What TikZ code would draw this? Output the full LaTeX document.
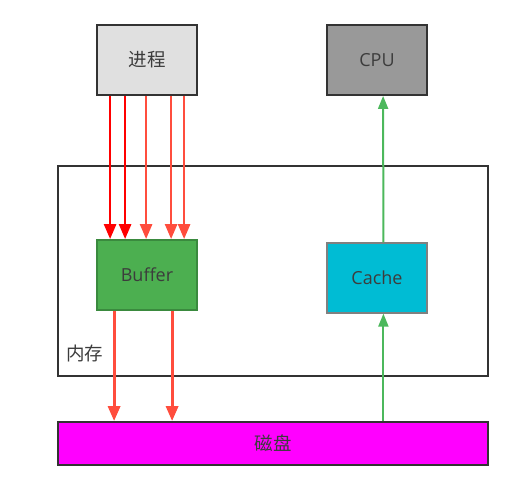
\documentclass[tikz,border=0pt]{standalone}
\usepackage{fontspec}
\setmainfont{Open Sans}
\newfontfamily\cjk{Noto Sans CJK SC}
\usepackage{xcolor}
\usetikzlibrary{arrows.meta,positioning}

\definecolor{procgray}{HTML}{E0E0E0}
\definecolor{cpugray}{HTML}{999999}
\definecolor{bufgreen}{HTML}{4CAF50}
\definecolor{bufedge}{HTML}{3A8A3E}
\definecolor{cachecyan}{HTML}{00BCD4}
\definecolor{diskpink}{HTML}{FF00FF}
\definecolor{edgedark}{HTML}{333333}
\definecolor{textdark}{HTML}{3C3C3C}
\definecolor{lightred}{HTML}{FF4D3D}
\definecolor{upgreen}{HTML}{4CB85C}

\tikzset{
  unit/.style={draw=edgedark, line width=1.8pt, minimum width=100pt,
    minimum height=70pt, inner sep=0pt, text=textdark, font=\fontsize{18}{21}\selectfont},
  cjkfont/.style={font=\cjk\fontsize{18.5}{21}\selectfont},
  wide/.style={draw=edgedark, line width=1.8pt, minimum width=430pt, inner sep=0pt},
  redarrow/.style={line width=2.6pt, -{Triangle[width=12pt,length=15pt]}},
  greenarrow/.style={color=upgreen, line width=2pt, -{Triangle[width=10pt,length=13pt]}}
}

\begin{document}
\begin{tikzpicture}[x=1pt, y=-1pt]
  \useasboundingbox (0,0) rectangle (513,490);
  % memory frame and disk
  \node[wide, minimum height=210pt] (mem) at (273,271) {};
  \node[wide, minimum height=43pt, fill=diskpink, text=textdark, cjkfont] (disk) at (273,443.5) {磁盘};
  \node[text=textdark, cjkfont, anchor=west, inner sep=0pt] (memlabel) at (66,353) {内存};
  % boxes
  \node[unit, fill=procgray, cjkfont] (proc) at (147,60) {进程};
  \node[unit, fill=cpugray] (cpu) at (377,60) {CPU};
  \node[unit, fill=bufgreen, draw=bufedge] (buf) at (147,275) {Buffer};
  \node[unit, fill=cachecyan, draw=gray, line width=1.2pt] (cache) at (377,278) {Cache};
  % writes into the buffer
  \foreach \dx in {14,29}
    \draw[redarrow, red] ([xshift=\dx]proc.south west) -- ([xshift=\dx]buf.north west);
  \foreach \dx in {50,75,88}
    \draw[redarrow, lightred] ([xshift=\dx]proc.south west) -- ([xshift=\dx]buf.north west);
  % buffer flushed to disk
  \foreach \dx in {18,76}
    \draw[redarrow, lightred, line width=3.2pt] ([xshift=\dx]buf.south west) -- ([xshift=\dx]buf.south west |- disk.north);
  % reads through the cache
  \draw[greenarrow] ([xshift=57]cache.south west |- disk.north) -- ([xshift=57]cache.south west);
  \draw[greenarrow] ([xshift=57]cache.north west) -- ([xshift=57]cpu.south west);
\end{tikzpicture}
\end{document}
